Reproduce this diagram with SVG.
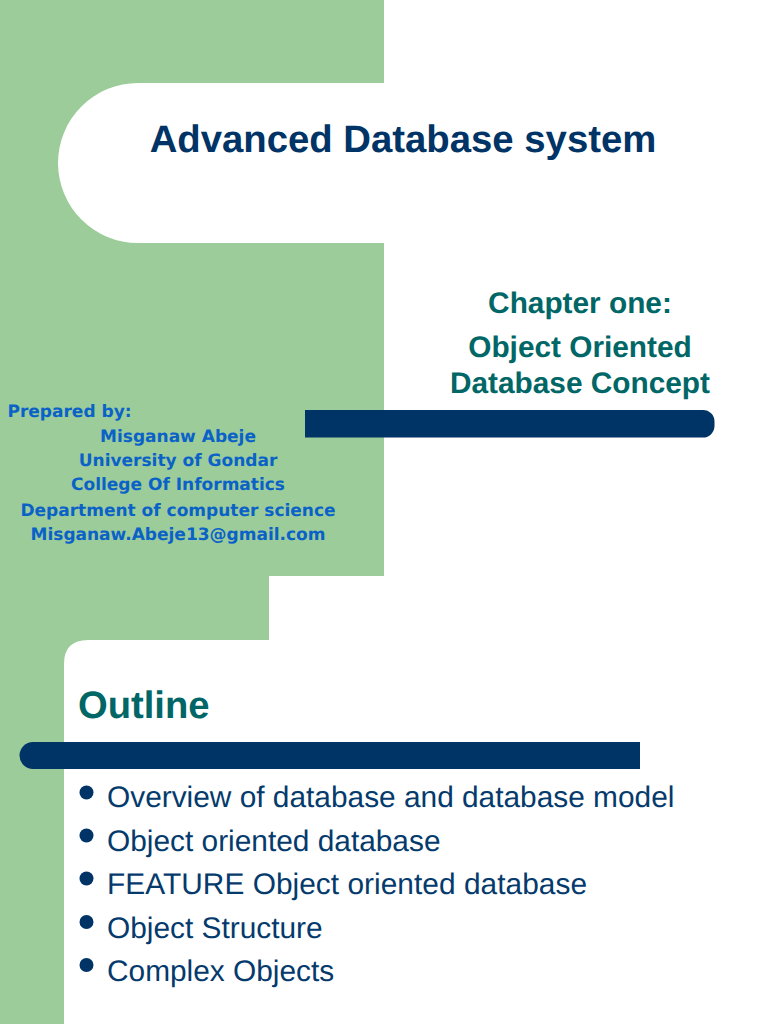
<svg xmlns="http://www.w3.org/2000/svg" width="768" height="1024" viewBox="0 0 768 1024">
<style>
text{font-family:"Liberation Sans",Arial,sans-serif;text-rendering:geometricPrecision}
.t{fill:#006666;font-size:29.8px;text-anchor:middle;font-weight:700}
.b{fill:#053a6c;font-size:29.85px}
.p{fill:#0a62c8;font-family:"DejaVu Sans",sans-serif;font-size:17px;font-weight:700;text-anchor:middle}
.bar{fill:#003366}
</style>
<rect width="768" height="1024" fill="#fff"/>
<path fill="#9ccc99" d="M0 0H384V83H138A80 80 0 0 0 138 243H384V576H269V640H88Q64 640 64 664V1024H0Z"/>
<g id="title"><text x="403" y="152" text-anchor="middle" font-size="38.3" font-weight="700" fill="#003366">Advanced Database system</text></g>
<g id="chapter">
<text class="t" x="580" y="313">Chapter one:</text>
<text class="t" x="580" y="357">Object Oriented</text>
<text class="t" x="580" y="393">Database Concept</text>
<path class="bar" d="M305 410H703A11.500 11.500 0 0 1 714.500 421.500V426A11.500 11.500 0 0 1 703 437.500H305Z"/>
</g>
<g id="author">
<text class="p" x="69.500" y="416.500">Prepared by:</text>
<text class="p" x="178" y="441.500">Misganaw Abeje</text>
<text class="p" x="178" y="465.500">University of Gondar</text>
<text class="p" x="178" y="489.500">College Of Informatics</text>
<text class="p" x="178" y="515.500">Department of computer science</text>
<text class="p" x="178" y="539.500">Misganaw.Abeje13@gmail.com</text>
</g>
<g id="outline">
<text x="78" y="718" font-size="38.2" font-weight="700" fill="#006666">Outline</text>
<path class="bar" d="M640 742H33A13.500 13.500 0 0 0 33 769H640Z"/>
<circle class="bar" cx="86.500" cy="792.500" r="7"/><text class="b" x="107" y="807">Overview of database and database model</text>
<circle class="bar" cx="86.500" cy="835.500" r="7"/><text class="b" x="107" y="850.500">Object oriented database</text>
<circle class="bar" cx="86.500" cy="878.500" r="7"/><text class="b" x="107" y="894" textLength="480">FEATURE Object oriented database</text>
<circle class="bar" cx="86.500" cy="922" r="7"/><text class="b" x="107" y="937.500">Object Structure</text>
<circle class="bar" cx="86.500" cy="965" r="7"/><text class="b" x="107" y="980.500">Complex Objects</text>
</g>
</svg>
